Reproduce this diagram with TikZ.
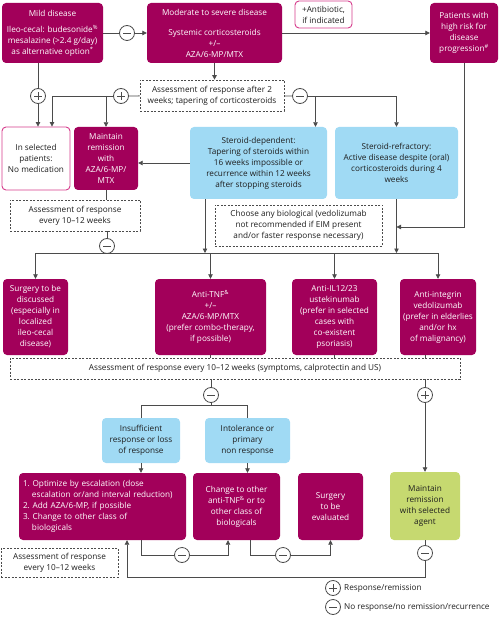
\documentclass[tikz,border=0pt]{standalone}
\usepackage{fontspec}
\setmainfont{Open Sans}
\usetikzlibrary{arrows.meta}

\definecolor{crohnmag}{RGB}{162,0,90}
\definecolor{crohnblue}{RGB}{160,218,244}
\definecolor{crohngreen}{RGB}{198,217,112}
\definecolor{crohnpink}{RGB}{214,60,140}
\definecolor{linegray}{RGB}{75,75,75}
\definecolor{textdark}{RGB}{30,30,30}

\begin{document}
\begin{tikzpicture}[x = 1pt, y = -1pt,
	basebox/.style = {rounded corners = 4pt, inner sep = 0pt, align = center, font = \fontsize{8.2}{11}\selectfont},
	magbox/.style = {basebox, fill = crohnmag, text = white},
	bluebox/.style = {basebox, fill = crohnblue, text = textdark},
	greenbox/.style = {basebox, fill = crohngreen, text = textdark},
	whitebox/.style = {basebox, draw = crohnpink, line width = 0.9pt, fill = white, text = textdark},
	assessbox/.style = {basebox, rounded corners = 0pt, draw = linegray, line width = 0.7pt, dash pattern = on 2pt off 1.5pt, fill = white, text = textdark},
	signcirc/.style = {circle, draw = linegray, line width = 0.8pt, fill = white, minimum size = 15pt, inner sep = 0pt},
	minuscirc/.style = {signcirc, path picture = {\draw[linegray, line width = 0.8pt] (path picture bounding box.center) ++(-4pt,0) -- ++(8pt,0);}},
	pluscirc/.style = {signcirc, path picture = {\draw[linegray, line width = 0.8pt] (path picture bounding box.center) ++(-4pt,0) -- ++(8pt,0) (path picture bounding box.center) ++(0,-4pt) -- ++(0,8pt);}},
	conn/.style = {draw = linegray, line width = 0.8pt},
	arr/.style = {conn, -{Triangle[length = 4.5pt, width = 4.5pt]}},
	legtext/.style = {anchor = west, inner sep = 0pt, text = textdark, font = \fontsize{8.2}{11}\selectfont}
]
	\useasboundingbox (0,0) rectangle (500,617);

	% first line of treatment
	\node[magbox, minimum width = 101, minimum height = 60] (mild) at (52.5,33)
		{Mild disease\\[5pt] Ileo-cecal: budesonide\textsuperscript{\%}\\ mesalazine (>2.4 g/day)\\ as alternative option\textsuperscript{*}};
	\node[magbox, minimum width = 135, minimum height = 60] (moderate) at (214.5,33)
		{Moderate to severe disease\\[9pt] Systemic corticosteroids\\ +/–\\ AZA/6-MP/MTX};
	\node[whitebox, minimum width = 57, minimum height = 27] (antib) at (323.5,14.5)
		{+Antibiotic,\\ if indicated};
	\node[magbox, minimum width = 68, minimum height = 60] (risk) at (464,33)
		{Patients with\\ high risk for\\ disease\\ progression\textsuperscript{\#}};
	\node[assessbox, minimum width = 144, minimum height = 31] (assess2) at (212,95.5)
		{Assessment of response after 2\\ weeks; tapering of corticosteroids};

	% second row
	\node[whitebox, minimum width = 68, minimum height = 63] (insel) at (36,158.5)
		{In selected\\ patients:\\ No medication};
	\node[magbox, minimum width = 64, minimum height = 63] (maint) at (106,158.5)
		{Maintain\\ remission\\ with\\ AZA/6-MP/\\ MTX};
	\node[bluebox, minimum width = 137, minimum height = 72] (sdep) at (258.5,163)
		{Steroid-dependent:\\ Tapering of steroids within\\ 16 weeks impossible or\\ recurrence within 12 weeks\\ after stopping steroids};
	\node[bluebox, minimum width = 123, minimum height = 72] (sref) at (396.5,163)
		{Steroid-refractory:\\ Active disease despite (oral)\\ corticosteroids during 4\\ weeks};
	\node[assessbox, minimum width = 130, minimum height = 31] (assess3) at (75,215.5)
		{Assessment of response\\ every 10–12 weeks};
	\node[assessbox, minimum width = 167, minimum height = 41] (choose) at (298.5,225.5)
		{Choose any biological (vedolizumab\\ not recommended if EIM present\\ and/or faster response necessary)};

	% biologicals
	\node[magbox, minimum width = 65, minimum height = 76] (surgery) at (35.5,317)
		{Surgery to be\\ discussed\\ (especially in\\ localized\\ ileo-cecal\\ disease)};
	\node[magbox, minimum width = 111, minimum height = 76] (antitnf) at (210.5,317)
		{Anti-TNF\textsuperscript{\&}\\ +/–\\ AZA/6-MP/MTX\\ (prefer combo-therapy,\\ if possible)};
	\node[magbox, minimum width = 85, minimum height = 76] (antiil) at (334.5,317)
		{Anti-IL12/23\\ ustekinumab\\ (prefer in selected\\ cases with\\ co-existent\\ psoriasis)};
	\node[magbox, minimum width = 76, minimum height = 76] (antiint) at (438,317)
		{Anti-integrin\\ vedolizumab\\ (prefer in elderlies\\ and/or hx\\ of malignancy)};
	\node[assessbox, minimum width = 450, minimum height = 21] (assess4) at (235,368.5)
		{Assessment of response every 10–12 weeks (symptoms, calprotectin and US)};

	% failure of biologicals
	\node[bluebox, minimum width = 78, minimum height = 45] (insuf) at (141,440.5)
		{Insufficient\\ response or loss\\ of response};
	\node[bluebox, minimum width = 85, minimum height = 45] (intol) at (247.5,440.5)
		{Intolerance or\\ primary\\ non response};
	\node[magbox, minimum width = 167, minimum height = 67, align = left, text width = 159] (opt) at (102.5,506.5)
		{1.~Optimize by escalation (dose\\ \hspace*{9pt}escalation or/and interval reduction)\\ 2.~Add AZA/6-MP, if possible\\ 3.~Change to other class of\\ \hspace*{9pt}biologicals};
	\node[magbox, minimum width = 87, minimum height = 67] (change) at (236.5,506.5)
		{Change to other\\ anti-TNF\textsuperscript{\&} or to\\ other class of\\ biologicals};
	\node[magbox, minimum width = 65, minimum height = 67] (surgery2) at (330.5,506.5)
		{Surgery\\ to be\\ evaluated};
	\node[greenbox, minimum width = 70, minimum height = 68] (green) at (425,506)
		{Maintain\\ remission\\ with selected\\ agent};
	\node[assessbox, minimum width = 117, minimum height = 29] (assess5) at (59.5,562.5)
		{Assessment of response\\ every 10–12 weeks};

	% response circles
	\node[minuscirc] (m1) at (127,33) {};
	\node[pluscirc] (p1) at (38,96) {};
	\node[pluscirc] (p2) at (121,96) {};
	\node[minuscirc] (m2) at (300,96) {};
	\node[minuscirc] (m3) at (107,246) {};
	\node[minuscirc] (m4) at (211,395) {};
	\node[pluscirc] (p3) at (425,395) {};
	\node[minuscirc] (m5) at (182,555) {};
	\node[minuscirc] (m6) at (283,555) {};
	\node[minuscirc] (m7) at (425,553) {};

	\coordinate (risky) at (0,227);
	\coordinate (bus) at (0,253);
	\coordinate (split) at (0,405);
	\coordinate (back) at (0,577);

	% connectors
	\draw[conn] (mild) -- (m1);
	\draw[arr] (m1) -- (moderate);
	\draw[arr] (moderate) -- (risk);
	\draw[arr] (moderate.south) -- (moderate.south |- assess2.north);
	\draw[conn] (p1 |- mild.south) -- (p1);
	\draw[arr] (p1) -- (p1 |- insel.north);
	\draw[conn] (assess2) -- (p2);
	\draw[arr] (p2) -| ([xshift = 16pt]insel.north);
	\draw[arr] (p2 -| maint.north) -- (maint.north);
	\draw[conn] (assess2) -- (m2);
	\draw[arr] (m2) -| ([xshift = 57pt]sdep.north);
	\draw[arr] (m2) -| (sref.north);
	\draw[arr] (risk.south) |- (sref.south |- risky);
	\draw[arr] (sdep.west) -- (sdep.west -| maint.east);
	\draw[conn] (maint.south) -- (maint.south |- assess3.north);
	\draw[conn] (m3 |- assess3.south) -- (m3);
	\draw[conn] (m3) -- (m3 |- bus);
	\draw[arr] ([xshift = -53.5pt]sdep.south) -- ([xshift = -53.5pt]sdep.south |- bus);
	\draw[arr] (sref.south) -- (sref.south |- bus);
	\draw[conn] (surgery.north |- bus) -- (antiint.north |- bus);
	\draw[arr] (surgery.north |- bus) -- (surgery.north);
	\draw[arr] (antitnf.north |- bus) -- (antitnf.north);
	\draw[arr] (antiil.north |- bus) -- (antiil.north);
	\draw[arr] (antiint.north |- bus) -- (antiint.north);

	\draw[conn] (antitnf.south) -- (antitnf.south |- assess4.north);
	\draw[conn] (antiil.south) -- (antiil.south |- assess4.north);
	\draw[conn] (green.north |- antiint.south) -- (green.north |- assess4.north);
	\draw[conn] (m4 |- assess4.south) -- (m4);
	\draw[conn] (m4) -- (m4 |- split);
	\draw[conn] (insuf.north) |- (intol.north |- split) -- (intol.north);
	\draw[conn] (p3 |- assess4.south) -- (p3);
	\draw[arr] (p3) -- (green.north);
	\draw[arr] (insuf.south) -- (insuf.south |- opt.north);
	\draw[arr] (intol.south) -- (intol.south |- change.north);

	\draw[conn] ([xshift = 38.5pt]opt.south) |- (m5);
	\draw[arr] (m5) -| ([xshift = -8.5pt]change.south);
	\draw[conn] ([xshift = 13.5pt]change.south) |- (m6);
	\draw[arr] (m6) -| (surgery2.south);
	\draw[conn] (green.south) -- (m7);
	\draw[arr] (m7) |- ([xshift = 24.5pt]opt.south |- back) -- ([xshift = 24.5pt]opt.south);

	% legend
	\node[pluscirc] (legp) at (333,588) {};
	\node[minuscirc] (legm) at (333,607) {};
	\node[legtext] (legptext) at (344,588) {Response/remission};
	\node[legtext] (legmtext) at (344,607) {No response/no remission/recurrence};
\end{tikzpicture}
\end{document}
